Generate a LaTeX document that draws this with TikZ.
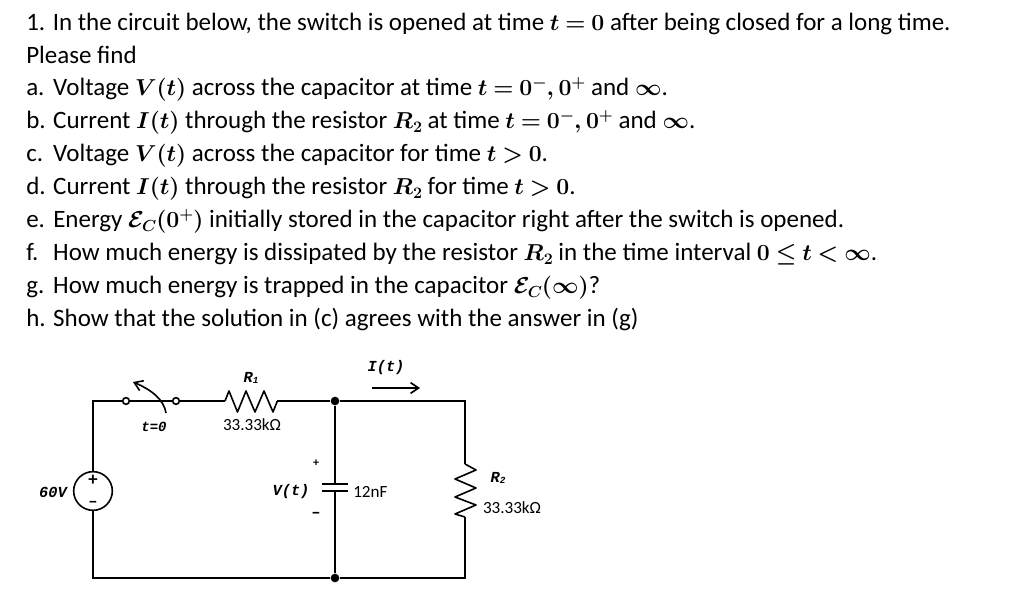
\documentclass[tikz,border=0pt]{standalone}
\usepackage{amsmath}
\usepackage{fontspec}
\setmainfont{Carlito}
\newfontfamily\schemfont{Liberation Mono}
\usetikzlibrary{arrows.meta}
\newcommand{\qitem}[1]{\makebox[20.25pt][l]{#1}}
\scriptspace=0pt
\thickmuskip=4mu
\tikzset{
	wire/.style={line width=1.2pt},
	question/.style={anchor=base west,inner sep=0pt,font=\fontsize{18.75}{19}\selectfont\boldmath},
	schem/.style={inner sep=0pt,font=\fontsize{11.5}{12}\schemfont\bfseries\itshape},
	value/.style={inner sep=0pt,font=\fontsize{12.8}{13}\selectfont},
	sign/.style={inner sep=0pt,font=\fontsize{9}{9}\selectfont\bfseries},
	srcsign/.style={inner sep=0pt,font=\fontsize{14}{14}\selectfont\bfseries},
	term/.style={circle,draw,wire,fill=white,inner sep=0pt,minimum size=5pt},
	junction/.style={circle,fill=black,inner sep=0pt,minimum size=6.5pt},
	source/.style={circle,draw,wire,inner sep=0pt,minimum size=29pt}
}

\begin{document}
\begin{tikzpicture}[x=0.75pt,y=-0.75pt]
	\useasboundingbox (0,0) rectangle (1024,616);
	%%%%% TEXT %%%%%
	\node[question] (q0) at (26,31) {1. In the circuit below, the switch is opened at time $t=0$ after being closed for a long time.};
	\node[question] (q00) at (26,64) {Please find};
	\node[question] (qa) at (26,96) {\qitem{a.}Voltage $V(t)$ across the capacitor at time $t=0^{-},0^{+}$ and $\infty$.};
	\node[question] (qb) at (26,129) {\qitem{b.}Current $I(t)$ through the resistor $R_2$ at time $t=0^{-},0^{+}$ and $\infty$.};
	\node[question] (qc) at (26,162) {\qitem{c.}Voltage $V(t)$ across the capacitor for time $t>0$.};
	\node[question] (qd) at (26,195) {\qitem{d.}Current $I(t)$ through the resistor $R_2$ for time $t>0$.};
	\node[question] (qe) at (26,228) {\qitem{e.}Energy $\mathcal{E}_C(0^{+})$ initially stored in the capacitor right after the switch is opened.};
	\node[question] (qf) at (26,261) {\qitem{f.}How much energy is dissipated by the resistor $R_2$ in the time interval $0\leq t<\infty$.};
	\node[question] (qg) at (26,294) {\qitem{g.}How much energy is trapped in the capacitor $\mathcal{E}_C(\infty)$?};
	\node[question] (qh) at (26,327) {\qitem{h.}Show that the solution in (c) agrees with the answer in (g)};

	%%%%% CIRCUIT %%%%%
	\coordinate (cTL) at (93,401);
	\coordinate (cBL) at (93,578);
	\coordinate (cTR) at (465,401);
	\coordinate (cBR) at (465,578);
	\coordinate (r1a) at (225,401);
	\coordinate (r1b) at (277,401);
	\coordinate (r2a) at (465,464);
	\coordinate (r2b) at (465,517);
	\coordinate (capT) at (335,484);
	\coordinate (capB) at (335,491);
	\node[source] (vs) at (93,491) {};
	\node[term] (swL) at (126,401) {};
	\node[term] (swR) at (176,401) {};
	\node[junction] (jT) at (335,401) {};
	\node[junction] (jB) at (335,578) {};

	\draw[wire] (vs) -- (cTL) -- (swL);
	\draw[wire] (swL) -- (swR);
	\draw[wire] (swR) -- (r1a);
	\draw[wire,line join=round] (r1a) -- ++(4,-10) -- ++(8.5,21) -- ++(8.5,-21) -- ++(9,21) -- ++(9,-21) -- ++(9,21) -- ++(4,-10) -- (r1b);
	\draw[wire] (r1b) -- (jT);
	\draw[wire] (jT) -- (cTR) -- (r2a);
	\draw[wire,line join=round] (r2a) -- ++(11,6) -- ++(-21,9) -- ++(21,9) -- ++(-21,9) -- ++(21,8) -- ++(-21,9) -- (r2b);
	\draw[wire] (r2b) -- (cBR) -- (jB);
	\draw[wire] (jB) -- (cBL) -- (vs);
	\draw[wire] (jT) -- (capT);
	\draw[wire] (capB) -- (jB);
	\draw[wire] ([xshift=-9.75pt]capT) -- ([xshift=9.75pt]capT);
	\draw[wire] ([xshift=-9.75pt]capB) -- ([xshift=9.75pt]capB);

	%%%%% ARROWS %%%%%
	\coordinate (swA) at (166,413);
	\coordinate (swB) at (133,382);
	\coordinate (iA) at (372,388);
	\coordinate (iB) at (420,388);
	\draw[wire,-{Straight Barb[length=6pt,width=8pt]}] (swA) .. controls (164,400) and (152,390) .. (swB);
	\draw[wire,-{Straight Barb[length=6pt,width=8pt]}] (iA) -- (iB);

	%%%%% LABELS %%%%%
	\node[srcsign] (vsP) at (93,480) {+};
	\node[srcsign] (vsM) at (93,504) {--};
	\node[schem] (lblVs) at (53,492) {60V};
	\node[schem,font=\fontsize{10.5}{11}\schemfont\bfseries\itshape] (lblSw) at (154,427) {t=0};
	\node[schem] (lblR1) at (251,378) {R\raisebox{-1pt}{\fontsize{7}{7}\selectfont 1}};
	\node[value] (valR1) at (252,425) {33.33kΩ};
	\node[schem] (lblI) at (386,368) {I(t)};
	\node[schem] (lblV) at (291,492) {V(t)};
	\node[sign] (capP) at (316,463) {+};
	\node[srcsign] (capM) at (316,515) {--};
	\node[value,anchor=west] (valC) at (353,492) {12nF};
	\node[schem] (lblR2) at (498,478) {R\raisebox{-1pt}{\fontsize{7}{7}\selectfont 2}};
	\node[value] (valR2) at (512,508) {33.33kΩ};
\end{tikzpicture}
\end{document}
